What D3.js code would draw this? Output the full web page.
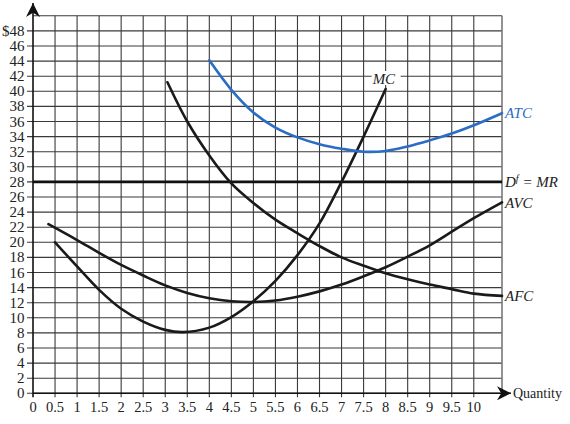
<!DOCTYPE html>
<html>
<head>
<meta charset="utf-8">
<script src="https://d3js.org/d3.v7.min.js"></script>
<style>
  body { margin: 0; background: #fff; }
  text { font-family: "Liberation Serif", "DejaVu Serif", serif; fill: #222; }
</style>
</head>
<body>
<div id="graph"></div>
<script>
// Tick labels
var qTicks = [0, 0.5, 1, 1.5, 2, 2.5, 3, 3.5, 4, 4.5, 5, 5.5, 6, 6.5, 7, 7.5, 8, 8.5, 9, 9.5, 10];
var pTicks = [0, 2, 4, 6, 8, 10, 12, 14, 16, 18, 20, 22, 24, 26, 28, 30, 32, 34, 36, 38, 40, 42, 44, 46, 48];
var qMax = 10.64, pMax = 50;

// Demand / marginal revenue price
var mrPrice = 28;

// Cost curves [quantity, $]
var mcData = [[0.5, 20], [1, 16.8], [1.5, 13.7], [2, 11.2], [2.5, 9.5], [3, 8.4], [3.4, 8.1], [4, 8.7],
  [4.5, 10.1], [5, 12.2], [5.5, 14.9], [6, 18.3], [6.5, 22.5], [7, 28], [7.5, 34], [8, 40.3]];
var avcData = [[0.35, 22.4], [1, 20.3], [1.5, 18.6], [2, 17], [2.5, 15.6], [3, 14.3], [3.5, 13.3], [4, 12.6],
  [4.5, 12.2], [5, 12.1], [5.5, 12.3], [6, 12.8], [6.5, 13.5], [7, 14.4], [7.5, 15.5], [8, 16.7],
  [8.5, 18.1], [9, 19.6], [9.5, 21.4], [10, 23.2], [10.64, 25.3]];
var afcData = [[3.05, 41.2], [3.5, 36], [4, 31.5], [4.5, 27.8], [5, 25.2], [5.5, 23], [6, 21.2], [6.5, 19.5],
  [7, 18], [7.5, 16.9], [8, 15.9], [8.5, 15.1], [9, 14.4], [9.5, 13.8], [10, 13.2], [10.64, 12.9]];
var atcData = [[4, 44.1], [4.5, 40.2], [5, 37.2], [5.5, 35.2], [6, 33.9], [6.5, 33], [7, 32.4], [7.5, 32],
  [8, 32.1], [8.5, 32.7], [9, 33.5], [9.5, 34.4], [10, 35.5], [10.64, 37.1]];

var W = 570, H = 424;
var x = d3.scaleLinear().domain([0, qMax]).range([33, 502]);
var y = d3.scaleLinear().domain([0, pMax]).range([393.3, 15.8]);

var svg = d3.select("#graph").append("svg")
  .attr("width", W)
  .attr("height", H);

//Grid, vertical
svg.append("g").selectAll("line")
  .data(qTicks.slice(1))
  .enter().append("line")
  .attr("x1", d => x(d)).attr("x2", d => x(d))
  .attr("y1", y(0) + 4).attr("y2", y(pMax))
  .attr("stroke", "#3a3a3a").attr("stroke-width", 1.1);

//Grid, horizontal
svg.append("g").selectAll("line")
  .data(pTicks.concat([pMax]))
  .enter().append("line")
  .attr("x1", d => d == pMax ? x(0) : x(0) - 6).attr("x2", x(qMax))
  .attr("y1", d => y(d)).attr("y2", d => y(d))
  .attr("stroke", "#3a3a3a").attr("stroke-width", 1.1);

//Right border
svg.append("line")
  .attr("x1", x(qMax)).attr("x2", x(qMax))
  .attr("y1", y(0)).attr("y2", y(pMax))
  .attr("stroke", "#777").attr("stroke-width", 1.6);

//Arrow marker
svg.append("defs").append("marker")
  .attr("id", "arrow")
  .attr("viewBox", "0 0 10 10")
  .attr("refX", 10).attr("refY", 5)
  .attr("markerWidth", 14).attr("markerHeight", 14)
  .attr("markerUnits", "userSpaceOnUse")
  .attr("orient", "auto")
  .append("path")
  .attr("d", "M0,0 L10,5 L0,10 L3,5 Z")
  .attr("fill", "#111");

//Axes
svg.append("line")
  .attr("x1", x(0)).attr("x2", x(0))
  .attr("y1", y(0) + 4).attr("y2", 3)
  .attr("stroke", "#111").attr("stroke-width", 1.6)
  .attr("marker-end", "url(#arrow)");
svg.append("line")
  .attr("x1", x(0)).attr("x2", 511)
  .attr("y1", y(0)).attr("y2", y(0))
  .attr("stroke", "#111").attr("stroke-width", 1.6)
  .attr("marker-end", "url(#arrow)");

//Y tick labels
svg.append("g").selectAll("text")
  .data(pTicks)
  .enter().append("text")
  .attr("x", 24.5)
  .attr("y", d => y(d) + 5)
  .attr("text-anchor", "end")
  .style("font-size", "15px")
  .text(d => d == 48 ? "$" + d : d);

//X tick labels
svg.append("g").selectAll("text")
  .data(qTicks)
  .enter().append("text")
  .attr("x", d => x(d))
  .attr("y", 412)
  .attr("text-anchor", "middle")
  .style("font-size", "14.5px")
  .text(d => d);

svg.append("text")
  .attr("x", 513).attr("y", y(0) + 5)
  .style("font-size", "14px")
  .text("Quantity");

//Curves
var line = d3.line()
  .x(d => x(d[0]))
  .y(d => y(d[1]))
  .curve(d3.curveCatmullRom.alpha(0.5));

var curve = (data, color) => svg.append("path")
  .attr("fill", "none")
  .attr("stroke", color)
  .attr("stroke-width", 2.6)
  .attr("stroke-linecap", "round")
  .attr("d", line(data));

// D = MR line
svg.append("line")
  .attr("x1", x(0)).attr("x2", x(qMax))
  .attr("y1", y(mrPrice)).attr("y2", y(mrPrice))
  .attr("stroke", "#111").attr("stroke-width", 2.8);

curve(afcData, "#1a1a1a");
curve(avcData, "#1a1a1a");
curve(mcData, "#1a1a1a");
curve(atcData, "#2b6cc4");

//Curve labels
var label = (txt, lx, ly, color) => svg.append("text")
  .attr("x", lx).attr("y", ly)
  .style("font-size", "15px")
  .style("font-style", "italic")
  .style("fill", color)
  .text(txt);

var mcEnd = mcData[mcData.length - 1];
svg.append("rect")
  .attr("x", x(mcEnd[0]) - 14).attr("y", y(mcEnd[1]) - 18)
  .attr("width", 29).attr("height", 14)
  .attr("fill", "#fff");
label("MC", x(mcEnd[0]) - 13, y(mcEnd[1]) - 5.5, "#222");
label("ATC", x(qMax) + 3, y(atcData[atcData.length - 1][1]) + 5, "#2b6cc4");
label("AVC", x(qMax) + 3, y(avcData[avcData.length - 1][1]) + 6, "#222");
label("AFC", x(qMax) + 3, y(afcData[afcData.length - 1][1]) + 5, "#222");

var dl = label("D", x(qMax) + 3, y(mrPrice) + 5, "#222");
dl.append("tspan").attr("dy", -5).style("font-size", "10px").text("f");
dl.append("tspan").attr("dy", 5).text(" = MR");
</script>
</body>
</html>
